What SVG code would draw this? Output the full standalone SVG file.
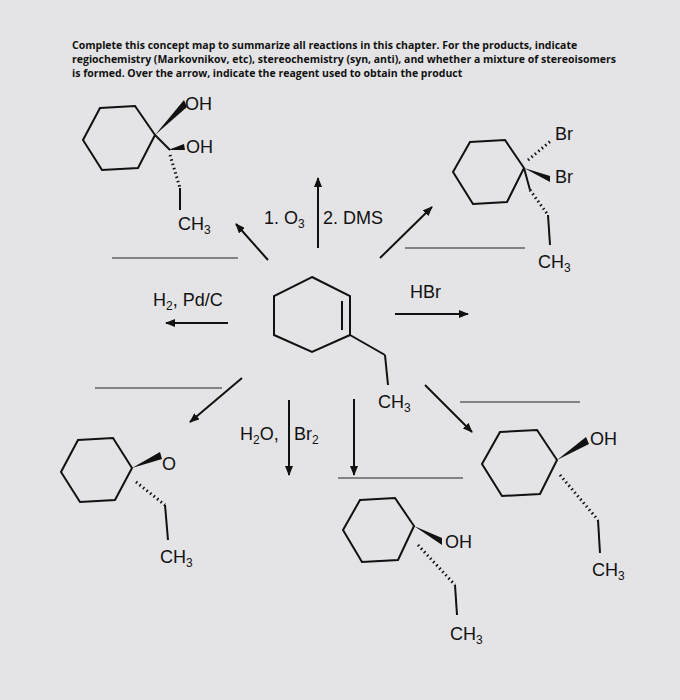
<svg xmlns="http://www.w3.org/2000/svg" width="680" height="700" viewBox="0 0 680 700">
<defs>
<marker id="ah" markerWidth="10" markerHeight="8" refX="9" refY="4" orient="auto" markerUnits="userSpaceOnUse"><path d="M0,0 L10,4 L0,8 Z" fill="#111"/></marker>
</defs>
<style>
.b{fill:none;stroke:#111;stroke-width:2}
.t{font-family:"Liberation Sans",Arial,sans-serif;font-size:18px;fill:#111}
.h{font-family:"Open Sans","Liberation Sans",sans-serif;font-size:10.5px;font-weight:bold;fill:#111}
.s{font-size:12px}
.a{stroke:#111;stroke-width:2;fill:none;marker-end:url(#ah)}
.l{stroke:#222;stroke-width:1.2}
</style>
<rect width="680" height="700" fill="#e4e4e6"/>
<text class="h" x="72" y="49">Complete this concept map to summarize all reactions in this chapter. For the products, indicate</text>
<text class="h" x="72" y="63">regiochemistry (Markovnikov, etc), stereochemistry (syn, anti), and whether a mixture of stereoisomers</text>
<text class="h" x="72" y="77">is formed. Over the arrow, indicate the reagent used to obtain the product</text>

<g id="diol">
<polygon class="b" points="100,108 135,106 155,135 138,168 102,170 83,140"/>
<line class="b" x1="155" y1="135" x2="170" y2="150"/>
<polygon points="155,135 184,100 187,107" fill="#111"/>
<polygon points="168,150 184,144 185,150" fill="#111"/>
<line x1="170" y1="155" x2="180" y2="188" stroke="#111" stroke-width="3" stroke-dasharray="1.5,3"/>
<line class="b" x1="180" y1="188" x2="180" y2="210"/>
<text class="t" x="185" y="110">OH</text>
<text class="t" x="186" y="153">OH</text>
<text class="t" x="178" y="230">CH<tspan class="s" dy="4">3</tspan></text>
</g>

<g id="dibromide">
<polygon class="b" points="470,142 505,140 524,168 507,202 473,204 453,172"/>
<polygon points="524,168 550,176 550,182" fill="#111"/>
<line x1="528" y1="160" x2="552" y2="140" stroke="#111" stroke-width="3" stroke-dasharray="1.5,3"/>
<line x1="530" y1="190" x2="548" y2="215" stroke="#111" stroke-width="3" stroke-dasharray="1.5,3"/>
<line class="b" x1="524" y1="168" x2="530" y2="190"/>
<line class="b" x1="548" y1="215" x2="550" y2="245"/>
<text class="t" x="555" y="140">Br</text>
<text class="t" x="555" y="183">Br</text>
<text class="t" x="538" y="268">CH<tspan class="s" dy="4">3</tspan></text>
</g>

<g id="alkene">
<polygon class="b" points="312,277 350,296 350,335 312,352 274,335 274,296"/>
<line class="b" x1="342" y1="301" x2="342" y2="330"/>
<line class="b" x1="350" y1="335" x2="385" y2="355"/>
<line class="b" x1="385" y1="355" x2="388" y2="385"/>
<text class="t" x="378" y="408">CH<tspan class="s" dy="4">3</tspan></text>
</g>

<g id="epoxide">
<polygon class="b" points="78,440 113,438 132,468 115,500 80,502 61,472"/>
<polygon points="132,468 160,452 162,459" fill="#111"/>
<line x1="136" y1="482" x2="165" y2="505" stroke="#111" stroke-width="3" stroke-dasharray="1.5,3"/>
<line class="b" x1="165" y1="505" x2="168" y2="540"/>
<text class="t" x="162" y="470">O</text>
<text class="t" x="160" y="563">CH<tspan class="s" dy="4">3</tspan></text>
</g>

<g id="halohydrin">
<polygon class="b" points="360,500 395,498 414,526 398,560 362,562 343,530"/>
<polygon points="414,526 442,538 442,545" fill="#111"/>
<line x1="418" y1="545" x2="455" y2="585" stroke="#111" stroke-width="3" stroke-dasharray="1.5,3"/>
<line class="b" x1="455" y1="585" x2="457" y2="615"/>
<text class="t" x="445" y="548">OH</text>
<text class="t" x="450" y="640">CH<tspan class="s" dy="4">3</tspan></text>
</g>

<g id="alcohol">
<polygon class="b" points="500,432 537,430 557,460 540,494 502,496 482,464"/>
<polygon points="557,460 586,437 589,444" fill="#111"/>
<line x1="560" y1="475" x2="598" y2="520" stroke="#111" stroke-width="3" stroke-dasharray="1.5,3"/>
<line class="b" x1="598" y1="520" x2="600" y2="553"/>
<text class="t" x="590" y="445">OH</text>
<text class="t" x="592" y="576">CH<tspan class="s" dy="4">3</tspan></text>
</g>

<g id="connectors">
<line class="a" x1="268" y1="260" x2="236" y2="224"/>
<line class="a" x1="318" y1="248" x2="318" y2="178"/>
<line class="a" x1="380" y1="258" x2="432" y2="207"/>
<line class="l" x1="112" y1="258" x2="238" y2="258"/>
<line class="l" x1="405" y1="248" x2="525" y2="248"/>
<line class="a" x1="228" y1="323" x2="166" y2="323"/>
<line class="a" x1="395" y1="314" x2="468" y2="314"/>
<line class="l" x1="95" y1="388" x2="222" y2="388"/>
<line class="a" x1="242" y1="378" x2="190" y2="422"/>
<line class="a" x1="289" y1="400" x2="289" y2="475"/>
<line class="a" x1="354" y1="399" x2="354" y2="475"/>
<line class="a" x1="425" y1="385" x2="472" y2="432"/>
<line class="l" x1="460" y1="402" x2="580" y2="402"/>
<line class="l" x1="338" y1="478" x2="463" y2="478"/>
</g>
<text class="t" x="264" y="224">1. O<tspan class="s" dy="4">3</tspan></text>
<text class="t" x="323" y="224">2. DMS</text>
<text class="t" x="153" y="306">H<tspan class="s" dy="4">2</tspan><tspan dy="-4">, Pd/C</tspan></text>
<text class="t" x="410" y="298">HBr</text>
<text class="t" x="240" y="440">H<tspan class="s" dy="4">2</tspan><tspan dy="-4">O,</tspan></text>
<text class="t" x="294" y="440">Br<tspan class="s" dy="4">2</tspan></text>
</svg>
